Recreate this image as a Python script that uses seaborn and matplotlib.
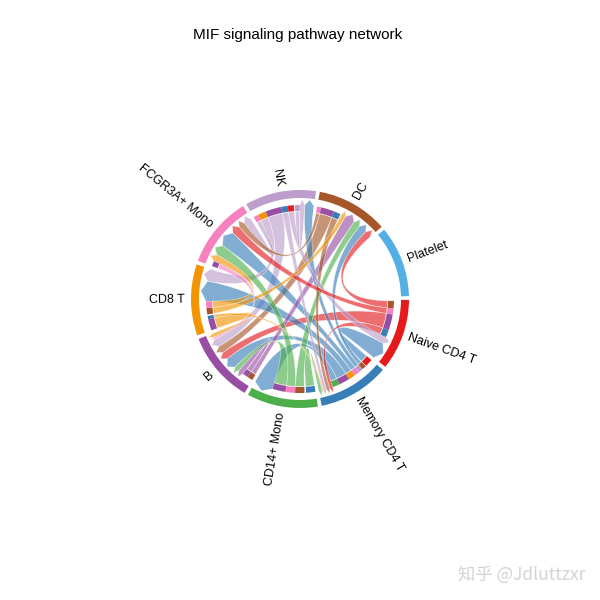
import numpy as np
import matplotlib
matplotlib.use("Agg")
import matplotlib.pyplot as plt
from matplotlib.patches import Polygon, Wedge
from matplotlib.colors import to_rgba
import seaborn as sns

# ---------------- data ----------------
cell_types = ["Naive CD4 T", "Memory CD4 T", "CD14+ Mono", "B", "CD8 T",
              "FCGR3A+ Mono", "NK", "DC", "Platelet"]
cell_colors = ["#E41A1C", "#377EB8", "#4DAF4A", "#984EA3", "#F29403",
               "#F781BF", "#BC9DCC", "#A65628", "#54B0E4"]
# communication probability, sender -> receiver (receivers in cell_types order)
from_naive    = [0.00, 0.66, 0.00, 1.40, 0.00, 0.53, 0.00, 0.66, 0.10]
from_memory   = [1.50, 0.00, 1.30, 2.10, 1.30, 1.00, 0.90, 0.80, 0.10]
from_cd14     = [0.00, 0.66, 0.00, 0.92, 0.00, 0.66, 0.00, 0.66, 0.10]
from_b        = [0.00, 0.00, 0.00, 1.00, 0.00, 0.00, 0.00, 1.00, 0.00]
from_cd8      = [0.00, 0.21, 0.00, 0.74, 0.00, 0.42, 0.00, 0.42, 0.10]
from_fcgr3a   = [0.00, 0.00, 0.00, 0.32, 0.00, 0.00, 0.00, 0.00, 0.00]
from_nk       = [0.60, 0.63, 0.00, 1.58, 0.79, 0.47, 0.47, 0.00, 0.10]
from_dc       = [0.00, 0.66, 0.00, 1.32, 0.00, 0.39, 0.00, 0.00, 0.10]
from_platelet = [0.00, 0.00, 0.00, 0.00, 0.00, 0.00, 0.00, 0.00, 0.00]
link_threshold = 0.15   # weaker links keep their space but are not drawn
title = "MIF signaling pathway network"
watermark = "知乎 @Jdluttzxr"

# ---------------- setup ----------------
sns.set_theme(style="white")
plt.rcParams["font.family"] = ["Liberation Sans", "DejaVu Sans"]
palette = sns.color_palette(cell_colors)

W = np.array([from_naive, from_memory, from_cd14, from_b, from_cd8,
              from_fcgr3a, from_nk, from_dc, from_platelet], dtype=float)
n = len(cell_types)
out_sum = W.sum(axis=1)
in_sum = W.sum(axis=0)
tot = out_sum + in_sum
gap = 2.0
sector_deg = (360.0 - n * gap) / n          # scale = TRUE : equal sectors
unit = sector_deg / tot                      # degrees per unit, per sector

starts, ends = [], []
a = -0.5
for k in range(n):
    starts.append(a)
    ends.append(a - sector_deg)
    a = a - sector_deg - gap
mids = [(s + e) / 2 for s, e in zip(starts, ends)]

CX, CY = 300.0, 301.0
R_RING_OUT, R_RING_W = 109.0, 8.0
R_TRACK_OUT, R_TRACK_W = 94.0, 6.0
R_SRC = 87.5
R_TGT_TIP, R_TGT_SIDE = 99.5, 94.0
K_CTRL = 0.4


def pol(r, deg):
    t = np.deg2rad(deg)
    return np.array([CX + r * np.cos(t), CY + r * np.sin(t)])


def arc(r, d1, d2, num=30):
    return [pol(r, d) for d in np.linspace(d1, d2, num)]


def bez(r0, d0, r3, d3, num=70):
    p0, p3 = pol(r0, d0), pol(r3, d3)
    c1, c2 = pol(r0 * K_CTRL, d0), pol(r3 * K_CTRL, d3)
    ts = np.linspace(0, 1, num)[:, None]
    return list((1 - ts) ** 3 * p0 + 3 * (1 - ts) ** 2 * ts * c1
                + 3 * (1 - ts) * ts ** 2 * c2 + ts ** 3 * p3)


def okey(i, j):
    if i == j:
        return 0.0
    return (mids[i] - mids[j]) % 360


def ikey(j, i):
    if i == j:
        return 360.0
    return (mids[j] - mids[i]) % 360


out_pos = {}
for i in range(n):
    targets = [j for j in range(n) if W[i, j] > 0]
    targets.sort(key=lambda j: -okey(i, j))
    cur = starts[i]
    for j in targets:
        w = W[i, j] * unit[i]
        out_pos[(i, j)] = (cur, cur - w)
        cur -= w
in_pos = {}
for j in range(n):
    sources = [i for i in range(n) if W[i, j] > 0]
    sources.sort(key=lambda i: -ikey(j, i))
    cur = starts[j] - out_sum[j] * unit[j]
    for i in sources:
        w = W[i, j] * unit[j]
        in_pos[(i, j)] = (cur, cur - w)
        cur -= w

fig = plt.figure(figsize=(6, 6), dpi=100)
ax = fig.add_axes([0, 0, 1, 1])
ax.set_xlim(0, 600)
ax.set_ylim(0, 600)
ax.axis("off")

visible = [(i, j) for (i, j) in out_pos if W[i, j] >= link_threshold]
visible.sort(key=lambda ij: -W[ij])

for (i, j) in visible:
    a1, a2 = out_pos[(i, j)]
    b1, b2 = in_pos[(i, j)]
    pts = []
    pts += arc(R_SRC, a1, a2)
    pts += bez(R_SRC, a2, R_TGT_SIDE, b1)
    pts += [pol(R_TGT_SIDE, b1), pol(R_TGT_TIP, (b1 + b2) / 2), pol(R_TGT_SIDE, b2)]
    pts += bez(R_TGT_SIDE, b2, R_SRC, a1)
    ax.add_patch(Polygon(np.array(pts), closed=True,
                         facecolor=to_rgba(palette[i], 0.63),
                         edgecolor=(1, 1, 1, 0.6), linewidth=0.4))

# target proportion track on the sender side
for (i, j) in visible:
    a1, a2 = out_pos[(i, j)]
    ax.add_patch(Wedge((CX, CY), R_TRACK_OUT, a2, a1, width=R_TRACK_W,
                       facecolor=palette[j], edgecolor="none"))

# outer grid + labels
for k in range(n):
    ax.add_patch(Wedge((CX, CY), R_RING_OUT, ends[k], starts[k], width=R_RING_W,
                       facecolor=palette[k], edgecolor="none"))
    m = mids[k]
    p = pol(115.0, m)
    if np.cos(np.deg2rad(m)) >= 0:
        rot, ha = m, "left"
    else:
        rot, ha = m + 180, "right"
    ax.text(p[0], p[1], cell_types[k], rotation=rot, rotation_mode="anchor",
            ha=ha, va="center", fontsize=9, color="black")

ax.text(298, 565, title, ha="center", va="center", fontsize=11, color="black")
ax.text(585, 25, watermark, ha="right", va="center", fontsize=12.5,
        color="#d4d4d4", family=["Noto Sans CJK SC", "DejaVu Sans"])

fig.savefig("out.png", dpi=100)
